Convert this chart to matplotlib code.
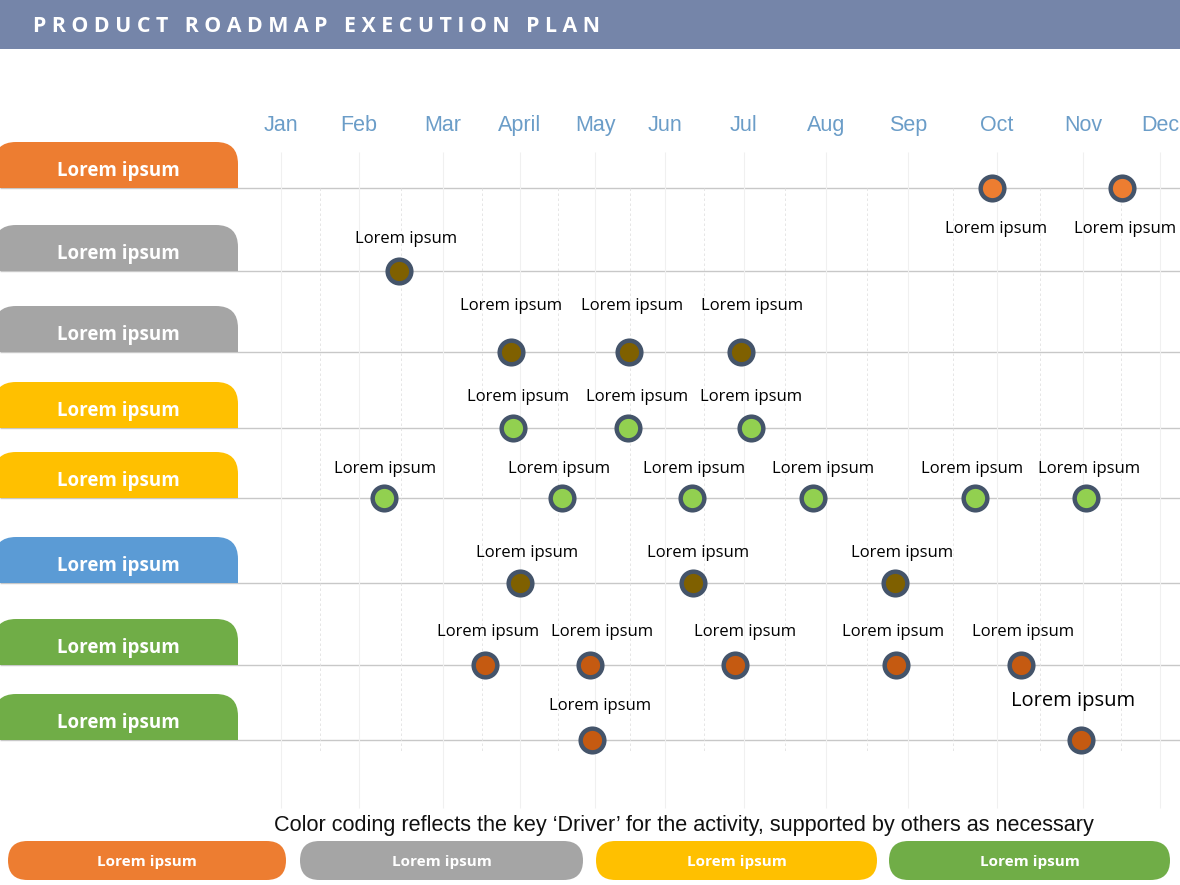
import numpy as np
import matplotlib.pyplot as plt
from matplotlib.patches import FancyBboxPatch, Rectangle

# --- данные ---
TITLE = "PRODUCT ROADMAP EXECUTION PLAN"
MONTHS = ["Jan", "Feb", "Mar", "April", "May", "Jun", "Jul", "Aug", "Sep", "Oct", "Nov", "Dec"]
# позиция подписи месяца на шкале (в месяцах, Jan = 1)
MONTH_POS = [1.0, 1.97, 3.02, 3.98, 4.92, 5.79, 6.77, 7.80, 8.82, 9.93, 11.0, 11.96]

ROW_NAMES = ["Lorem ipsum"] * 8
ROW_COLORS = ["#ED7D31", "#A5A5A5", "#A5A5A5", "#FFC000", "#FFC000", "#5B9BD5", "#70AD47", "#70AD47"]
DOT_COLORS = ["#ED7D31", "#7F6000", "#7F6000", "#92D050", "#92D050", "#7F6000", "#C55A11", "#C55A11"]

# вехи по строкам (в месяцах)
MILESTONES = [
    [9.87, 11.49],
    [2.47],
    [3.87, 5.34, 6.74],
    [3.89, 5.33, 6.86],
    [2.28, 4.50, 6.12, 7.63, 9.65, 11.04],
    [3.98, 6.14, 8.66],
    [3.54, 4.85, 6.66, 8.67, 10.23],
    [4.88, 10.98],
]
# где стоят подписи вех
LABEL_POS = [
    [9.92, 11.52],
    [2.56],
    [3.87, 5.38, 6.87],
    [3.96, 5.44, 6.86],
    [2.30, 4.47, 6.15, 7.76, 9.62, 11.07],
    [4.07, 6.20, 8.74],
    [3.58, 5.00, 6.79, 8.63, 10.25],
    [4.98, 10.88],
]
MILESTONE_TEXT = "Lorem ipsum"

LEGEND_NAMES = ["Lorem ipsum"] * 4
LEGEND_COLORS = ["#ED7D31", "#A5A5A5", "#FFC000", "#70AD47"]
CAPTION = "Color coding reflects the key \u2018Driver\u2019 for the activity, supported by others as necessary"

# --- раскладка (пиксели) ---
W, H = 1180, 885
ROW_Y = [188, 271, 352, 428, 498, 583, 665, 740]
LABEL_DY = [41, -32, -46, -31, -29, -30, -33, -34]
X0_PX, PX_PER_MONTH = 281, 80.2
LEGEND_X = [(8, 286), (300, 583), (596, 877), (889, 1170)]

fig = plt.figure(figsize=(11.8, 8.85), dpi=100)
lay = fig.add_axes([0, 0, 1, 1])
lay.set_xlim(0, W); lay.set_ylim(H, 0); lay.axis('off')
ax = fig.add_axes([0, 0, 1, 1])
ax.set_xlim(1 - X0_PX / PX_PER_MONTH, 1 + (W - X0_PX) / PX_PER_MONTH)
ax.set_ylim(H, 0); ax.axis('off')
ax.patch.set_alpha(0)

# шапка
lay.add_patch(Rectangle((0, 0), W, 49, color="#7585A9", lw=0))
spaced = "   ".join(" ".join(w) for w in TITLE.split())
lay.text(33, 27, spaced, ha='left', va='center', color='white', fontsize=15.4,
         fontweight='bold', family='Open Sans')

# месяцы и сетка
for m, pos in zip(MONTHS, MONTH_POS):
    ax.text(pos, 131, m, ha='center', va='baseline', fontsize=15.5,
            color='#6B9DC8', family='Liberation Sans')
mids = [(a + b) / 2 for a, b in zip(MONTH_POS[:-1], MONTH_POS[1:])]
ax.vlines(MONTH_POS, 152, 808, color='#F0F0F0', lw=0.8, zorder=0)
ax.vlines(mids, 188, 752, color='#E2E2E2', lw=0.6, linestyles=(0, (3, 3)), zorder=0)

# строки
lay.hlines(ROW_Y, 0, W, color='#C8C8C8', lw=1, zorder=1)
for name, col, y in zip(ROW_NAMES, ROW_COLORS, ROW_Y):
    lay.add_patch(FancyBboxPatch((-6, y - 46), 244, 46,
                                 boxstyle='round,pad=0,rounding_size=22',
                                 fc=col, ec='none', zorder=2))
    lay.add_patch(Rectangle((-6, y - 23), 244, 23, fc=col, ec='none', zorder=2))
    lay.text(118, y - 17, name, ha='center', va='center', color='white',
             fontsize=13.5, fontweight='bold', family='Open Sans', zorder=3)

# вехи
for r, (xs, lx) in enumerate(zip(MILESTONES, LABEL_POS)):
    ax.scatter(xs, [ROW_Y[r]] * len(xs), s=290, c=DOT_COLORS[r],
               edgecolors='#44546A', linewidths=3.2, zorder=5)
    for k, x in enumerate(lx):
        big = (r == 7 and k == 1)
        ax.text(x, ROW_Y[r] + (LABEL_DY[r] - 5 if big else LABEL_DY[r]), MILESTONE_TEXT,
                ha='center', va='center', fontsize=14.5 if big else 12,
                family='Open Sans', color='black', zorder=6)

# подпись и легенда
lay.text(684, 825, CAPTION, ha='center', va='center', fontsize=15.6,
         family='Liberation Sans', color='#111111')
for name, col, (x0, x1) in zip(LEGEND_NAMES, LEGEND_COLORS, LEGEND_X):
    lay.add_patch(FancyBboxPatch((x0, 841), x1 - x0, 39,
                                 boxstyle='round,pad=0,rounding_size=19.5',
                                 fc=col, ec='none'))
    lay.text((x0 + x1) / 2, 862, name, ha='center', va='center', color='white',
             fontsize=11, fontweight='bold', family='Open Sans')

fig.savefig('out.png', dpi=100)
